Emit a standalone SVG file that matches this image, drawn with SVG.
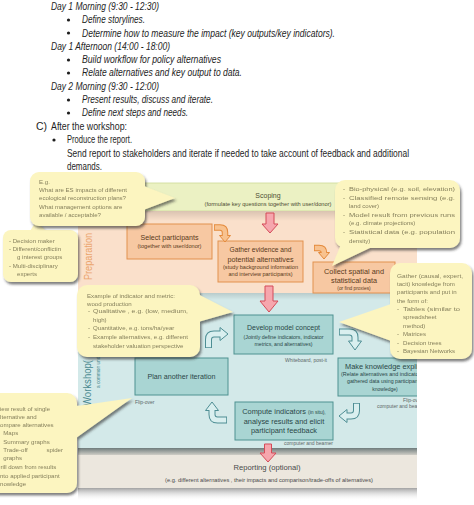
<svg xmlns="http://www.w3.org/2000/svg" width="474" height="505" viewBox="0 0 474 505">
<style>
text{font-family:"Liberation Sans",Arial,sans-serif}
.di{font-size:10.5px;font-style:italic;fill:#1e1e1e}
.dn{font-size:10.5px;fill:#1e1e1e}
.co{font-size:6.1px;fill:#86805c}
.cf{fill:#fcf5c0}
.pb{fill:#f7c8a2;stroke:#e2914f;stroke-width:1}
.wb{fill:#a9d5d3;stroke:#4f9291;stroke-width:1}
.pt{font-size:7px;fill:#5a3a20;text-anchor:middle}
.ps{font-size:4.8px;fill:#5a3a20;text-anchor:middle}
.wt{font-size:7.4px;fill:#2a4747;text-anchor:middle}
.ws{font-size:5px;fill:#2a4747;text-anchor:middle}
.nt{font-size:5px;fill:#5c6868}
.pk{fill:#f6a6ad;stroke:#d44b58;stroke-width:1;stroke-linejoin:round}
.oo{fill:none;stroke:#e48a3c;stroke-width:6.5}
.oi{fill:none;stroke:#f8c28f;stroke-width:4.5}
.oh{fill:#f8c28f;stroke:#e48a3c;stroke-width:1;stroke-linejoin:round}
.to{fill:none;stroke:#4e8e94;stroke-width:7}
.ti{fill:none;stroke:#d9efef;stroke-width:5}
.th{fill:#d9efef;stroke:#4e8e94;stroke-width:1;stroke-linejoin:round}
</style>
<defs>
<clipPath id="clip"><rect x="0" y="0" width="417" height="505"/></clipPath>
<filter id="sh" x="-20%" y="-20%" width="150%" height="150%"><feDropShadow dx="1.5" dy="2.5" stdDeviation="1.3" flood-color="#2a2a2a" flood-opacity="0.6"/></filter>
<linearGradient id="topsh" x1="0" y1="0" x2="0" y2="1"><stop offset="0" stop-color="#000" stop-opacity="0.13"/><stop offset="1" stop-color="#000" stop-opacity="0"/></linearGradient>
<linearGradient id="midsh" x1="0" y1="0" x2="0" y2="1"><stop offset="0" stop-color="#6f7c7c"/><stop offset="1" stop-color="#cfcdc6"/></linearGradient>
<linearGradient id="botsh" x1="0" y1="0" x2="0" y2="1"><stop offset="0" stop-color="#7a7a7a" stop-opacity="0.7"/><stop offset="1" stop-color="#fff" stop-opacity="0"/></linearGradient>
</defs>

<g id="document-text">
<text class="di" x="51" y="10" textLength="108" lengthAdjust="spacingAndGlyphs">Day 1 Morning (9:30 - 12:30)</text>
<circle cx="68.5" cy="20" r="1.6" fill="#1e1e1e"/>
<text class="di" x="82" y="23" textLength="63" lengthAdjust="spacingAndGlyphs">Define storylines.</text>
<circle cx="68.5" cy="33" r="1.6" fill="#1e1e1e"/>
<text class="di" x="82" y="36.5" textLength="253" lengthAdjust="spacingAndGlyphs">Determine how to measure the impact (key outputs/key indicators).</text>
<text class="di" x="51" y="49.5" textLength="119" lengthAdjust="spacingAndGlyphs">Day 1 Afternoon (14:00 - 18:00)</text>
<circle cx="68.5" cy="60" r="1.6" fill="#1e1e1e"/>
<text class="di" x="82" y="63" textLength="139" lengthAdjust="spacingAndGlyphs">Build workflow for policy alternatives</text>
<circle cx="68.5" cy="73" r="1.6" fill="#1e1e1e"/>
<text class="di" x="82" y="76" textLength="160" lengthAdjust="spacingAndGlyphs">Relate alternatives and key output to data.</text>
<text class="di" x="51" y="89.5" textLength="108" lengthAdjust="spacingAndGlyphs">Day 2 Morning (9:30 - 12:00)</text>
<circle cx="68.5" cy="100" r="1.6" fill="#1e1e1e"/>
<text class="di" x="82" y="103" textLength="131" lengthAdjust="spacingAndGlyphs">Present results, discuss and iterate.</text>
<circle cx="68.5" cy="113" r="1.6" fill="#1e1e1e"/>
<text class="di" x="82" y="116" textLength="106" lengthAdjust="spacingAndGlyphs">Define next steps and needs.</text>
<text class="dn" x="36" y="130">C)</text>
<text class="dn" x="51" y="130" textLength="76" lengthAdjust="spacingAndGlyphs">After the workshop:</text>
<circle cx="54" cy="140" r="1.6" fill="#1e1e1e"/>
<text class="dn" x="67" y="143" textLength="65" lengthAdjust="spacingAndGlyphs">Produce the report.</text>
<text class="dn" x="67" y="156.5" textLength="342" lengthAdjust="spacingAndGlyphs">Send report to stakeholders and iterate if needed to take account of feedback and additional</text>
<text class="dn" x="67" y="169.5" textLength="35" lengthAdjust="spacingAndGlyphs">demands.</text>
</g>

<g clip-path="url(#clip)">
<g id="scoping">
<rect x="78" y="183" width="345" height="28" fill="#ebf1c3" stroke="#cddb96" stroke-width="0.8"/>
<text x="268" y="197.5" font-size="7px" fill="#4d4d33" text-anchor="middle">Scoping</text>
<text x="268" y="205.5" font-size="5px" fill="#4d4d33" text-anchor="middle" textLength="127" lengthAdjust="spacingAndGlyphs">(formulate key questions together with user/donor)</text>
</g>
<g id="preparation">
<rect x="78" y="211" width="345" height="82" fill="#fae0cb"/>
<rect x="78" y="211" width="345" height="10" fill="url(#topsh)"/>
<text transform="translate(92,256.5) rotate(-90)" font-size="10px" fill="#eba56e" text-anchor="middle" textLength="47" lengthAdjust="spacingAndGlyphs">Preparation</text>
</g>
<g id="workshop">
<rect x="78" y="293" width="345" height="155" fill="#d3e9e9"/>
<rect x="78" y="293" width="345" height="7" fill="url(#topsh)"/>
<rect x="78" y="448" width="345" height="7" fill="url(#midsh)"/>
<text transform="translate(91,406) rotate(-90)" font-size="11px" fill="#4a8a90" textLength="46" lengthAdjust="spacingAndGlyphs">Workshop(</text>
<text transform="translate(99.5,388) rotate(-90)" font-size="5.5px" fill="#4a8a90" textLength="34" lengthAdjust="spacingAndGlyphs">a common unde</text>
</g>
<g id="reporting">
<rect x="78" y="455" width="345" height="33" fill="#ece7de"/>
<rect x="78" y="488" width="345" height="13" fill="url(#botsh)"/>
<text x="267" y="470" font-size="7.6px" fill="#4a4a4a" text-anchor="middle" textLength="67" lengthAdjust="spacingAndGlyphs">Reporting (optional)</text>
<text x="269" y="482" font-size="5px" fill="#4a4a4a" text-anchor="middle" textLength="208" lengthAdjust="spacingAndGlyphs">(e.g. different alternatives , their impacts and comparison/trade-offs of alternatives)</text>
</g>

<g id="select-participants">
<rect class="pb" x="127" y="224" width="85" height="35"/>
<text class="pt" x="169.5" y="240" textLength="58" lengthAdjust="spacingAndGlyphs">Select participants</text>
<text class="ps" x="169.5" y="247.5" textLength="64" lengthAdjust="spacingAndGlyphs">(together with user/donor)</text>
</g>
<g id="gather-evidence">
<rect class="pb" x="218" y="241" width="85" height="41"/>
<text class="pt" x="260.5" y="251.5" textLength="62" lengthAdjust="spacingAndGlyphs">Gather evidence and</text>
<text class="pt" x="260.5" y="261.5" textLength="66" lengthAdjust="spacingAndGlyphs">potential alternatives</text>
<text class="ps" x="260.5" y="269" textLength="75" lengthAdjust="spacingAndGlyphs">(study background information</text>
<text class="ps" x="260.5" y="275.5" textLength="64" lengthAdjust="spacingAndGlyphs">and interview participants)</text>
</g>
<g id="collect-data">
<rect class="pb" x="313" y="262" width="82" height="31"/>
<text class="pt" x="354" y="273.5" textLength="60" lengthAdjust="spacingAndGlyphs">Collect spatial and</text>
<text class="pt" x="354" y="282.5" textLength="46" lengthAdjust="spacingAndGlyphs">statistical data</text>
<text class="ps" x="354" y="290">(or find proxies)</text>
</g>

<g id="develop-model">
<rect class="wb" x="234" y="315" width="99" height="39"/>
<text class="wt" x="283.5" y="329.5" textLength="73" lengthAdjust="spacingAndGlyphs">Develop model concept</text>
<text class="ws" x="283.5" y="339" textLength="80" lengthAdjust="spacingAndGlyphs">(Jointly define indicators, indicator</text>
<text class="ws" x="283.5" y="345.5" textLength="58" lengthAdjust="spacingAndGlyphs">metrics, and alternatives)</text>
<text class="nt" x="327" y="362" text-anchor="end">Whiteboard, post-it</text>
</g>
<g id="make-knowledge">
<rect class="wb" x="338" y="358" width="96" height="38"/>
<text class="wt" x="385" y="368.5" textLength="80" lengthAdjust="spacingAndGlyphs">Make knowledge explicit</text>
<text class="ws" x="385" y="376" textLength="88" lengthAdjust="spacingAndGlyphs">(Relate alternatives and indicators to</text>
<text class="ws" x="385" y="383" textLength="76" lengthAdjust="spacingAndGlyphs">gathered data using participants'</text>
<text class="ws" x="385" y="390.5">knowledge)</text>
<text class="nt" x="403" y="401.5">Flip-over</text>
<text class="nt" x="377" y="408">computer and beamer</text>
</g>
<g id="plan-iteration">
<rect class="wb" x="135" y="358" width="93" height="37"/>
<text class="wt" x="181.5" y="379" textLength="68" lengthAdjust="spacingAndGlyphs">Plan another iteration</text>
<text class="nt" x="135" y="403.5">Flip-over</text>
</g>
<g id="compute-indicators">
<rect class="wb" x="235" y="402" width="98" height="38"/>
<text class="wt" x="284" y="414"><tspan>Compute indicators </tspan><tspan font-size="5px">(in situ),</tspan></text>
<text class="wt" x="284" y="423.5">analyse results and elicit</text>
<text class="wt" x="284" y="432.5">participant feedback</text>
<text class="nt" x="333" y="445" text-anchor="end">computer and beamer</text>
</g>

<g id="connectors">
<polygon class="pk" points="266,213 274,213 274,224 278,224 270,233 262,224 266,224"/>
<polygon class="pk" points="265,286 273,286 273,301 278,301 269,312 260,301 265,301"/>
<polygon class="pk" points="264.5,444 271.5,444 271.5,453 276,453 268,462 260,453 264.5,453"/>

<path class="oo" d="M214,227.5 H220 Q225,227.5 225,232.5 V236"/>
<polygon class="oh" points="219.5,235.5 230.5,235.5 225,242"/>
<path class="oi" d="M214.8,227.5 H220 Q225,227.5 225,232.5 V237"/>

<path class="oo" d="M314,248 H319 Q324,248 324,253 V253"/>
<polygon class="oh" points="318.5,252.5 329.5,252.5 324,259"/>
<path class="oi" d="M314.8,248 H319 Q324,248 324,253 V254"/>

<path class="to" d="M208.5,348 V339.5 Q208.5,334 214,334 H220.5"/>
<polygon class="th" points="220,327.5 220,340.5 228,334"/>
<path class="ti" d="M208.5,347.2 V339.5 Q208.5,334 214,334 H221.5"/>

<path class="to" d="M339,332 H349.5 Q355,332 355,337.5 V341.5"/>
<polygon class="th" points="348.5,341 361.5,341 355,350"/>
<path class="ti" d="M339.8,332 H349.5 Q355,332 355,337.5 V342.5"/>

<path class="to" d="M356.5,403 V410.5 Q356.5,416 351,416 H346.5"/>
<polygon class="th" points="347,409.5 347,422.5 339,416"/>
<path class="ti" d="M356.5,403.8 V410.5 Q356.5,416 351,416 H345.5"/>

<path class="to" d="M227,420 H217.5 Q212,420 212,414.5 V410.5"/>
<polygon class="th" points="205.5,410.5 218.5,410.5 212,402"/>
<path class="ti" d="M226.2,420 H217.5 Q212,420 212,414.5 V409.5"/>
</g>
</g>

<g id="callout-stakeholders" filter="url(#sh)">
<polygon class="cf" points="29,233 36,221 48,233"/>
<rect class="cf" x="3" y="230" width="75" height="52" rx="8"/>
<text class="co" x="9" y="242.5">- Decision maker</text>
<text class="co" x="9" y="251">- Different/conflictin</text>
<text class="co" x="17" y="259">g interest groups</text>
<text class="co" x="9" y="267.5">- Multi-disciplinary</text>
<text class="co" x="17" y="276">experts</text>
</g>
<g id="callout-questions" filter="url(#sh)">
<polygon class="cf" points="128,180 175,198 138,212"/>
<rect class="cf" x="30" y="172" width="115" height="54" rx="9"/>
<text class="co" x="39" y="183.5">E.g.</text>
<text class="co" x="39" y="191.5" textLength="88" lengthAdjust="spacingAndGlyphs">What are ES impacts of different</text>
<text class="co" x="39" y="200" textLength="87" lengthAdjust="spacingAndGlyphs">ecological reconstruction plans?</text>
<text class="co" x="39" y="208.5">What management options are</text>
<text class="co" x="39" y="216.5">available / acceptable?</text>
</g>
<g id="callout-data" filter="url(#sh)">
<polygon class="cf" points="342,242 332,266 374,246"/>
<rect class="cf" x="335" y="180" width="125" height="68" rx="10"/>
<text class="co" x="343" y="191">-</text><text class="co" x="349" y="191" textLength="106" lengthAdjust="spacingAndGlyphs">Bio-physical (e.g. soil, elevation)</text>
<text class="co" x="343" y="199.5">-</text><text class="co" x="349" y="199.5" textLength="106" lengthAdjust="spacingAndGlyphs">Classified  remote  sensing  (e.g.</text>
<text class="co" x="349" y="208">land cover)</text>
<text class="co" x="343" y="216.5">-</text><text class="co" x="349" y="216.5" textLength="106" lengthAdjust="spacingAndGlyphs">Model result from previous runs</text>
<text class="co" x="349" y="224.5">(e.g. climate projections)</text>
<text class="co" x="343" y="234">-</text><text class="co" x="349" y="234" textLength="106" lengthAdjust="spacingAndGlyphs">Statistical  data  (e.g.  population</text>
<text class="co" x="349" y="242.5">density)</text>
</g>
<g id="callout-knowledge" filter="url(#sh)">
<polygon class="cf" points="394,303 339,322 394,342"/>
<rect class="cf" x="390" y="263" width="82" height="96" rx="10"/>
<text class="co" x="397" y="277.5" textLength="66" lengthAdjust="spacingAndGlyphs">Gather (causal, expert,</text>
<text class="co" x="397" y="285.5">tacit) knowledge from</text>
<text class="co" x="397" y="294">participants and put in</text>
<text class="co" x="397" y="302.5">the form of:</text>
<text class="co" x="397" y="311">-</text><text class="co" x="403" y="311" textLength="57" lengthAdjust="spacingAndGlyphs">Tables  (similar  to</text>
<text class="co" x="403" y="319">spreadsheet</text>
<text class="co" x="403" y="327.5">method)</text>
<text class="co" x="397" y="336">-</text><text class="co" x="403" y="336">Matrices</text>
<text class="co" x="397" y="344.5">-</text><text class="co" x="403" y="344.5">Decision trees</text>
<text class="co" x="397" y="353">-</text><text class="co" x="403" y="353">Bayesian Networks</text>
</g>
<g id="callout-indicator" filter="url(#sh)">
<polygon class="cf" points="184,287 233,312 198,322"/>
<rect class="cf" x="77" y="285" width="123" height="72" rx="10"/>
<text class="co" x="87" y="297.5" textLength="88" lengthAdjust="spacingAndGlyphs">Example of indicator and metric:</text>
<text class="co" x="87" y="305.5">wood production</text>
<text class="co" x="88" y="313">-</text><text class="co" x="93" y="313" textLength="95" lengthAdjust="spacingAndGlyphs">Qualitative  ,  e.g.  (low,  medium,</text>
<text class="co" x="93" y="321.5">high)</text>
<text class="co" x="88" y="330">-</text><text class="co" x="93" y="330">Quantitative, e.g. tons/ha/year</text>
<text class="co" x="88" y="339">-</text><text class="co" x="93" y="339" textLength="95" lengthAdjust="spacingAndGlyphs">Example alternatives, e.g. different</text>
<text class="co" x="93" y="347.5">stakeholder valuation perspective</text>
</g>
<g id="callout-results" filter="url(#sh)">
<polygon class="cf" points="70,407 132,398 76,438"/>
<rect class="cf" x="-12" y="393" width="89" height="100" rx="10"/>
<text class="co" x="-4" y="410.5">View result of single</text>
<text class="co" x="-3.3" y="418.5">alternative and</text>
<text class="co" x="-3" y="426.5">compare alternatives</text>
<text class="co" x="3.3" y="435">Maps</text>
<text class="co" x="3.3" y="443.5">Summary graphs</text>
<text class="co" x="3.3" y="451.5">Trade-off</text>
<text class="co" x="63" y="451.5" text-anchor="end">spider</text>
<text class="co" x="3.3" y="460">graphs</text>
<text class="co" x="-4" y="468.5">Drill down from results</text>
<text class="co" x="-1.4" y="477.5">into applied participant</text>
<text class="co" x="-3" y="485.5">knowledge</text>
</g>
</svg>
